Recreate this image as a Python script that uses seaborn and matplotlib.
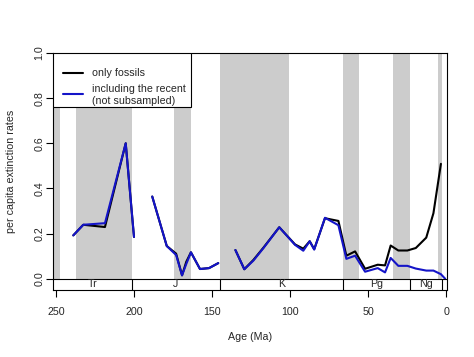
import numpy as np
import pandas as pd
import matplotlib
matplotlib.use("Agg")
import matplotlib.pyplot as plt
from matplotlib.patches import Rectangle
import seaborn as sns

# geological periods (Ma) for the strip along the bottom
period_names = ["Tr", "J", "K", "Pg", "Ng", ""]
period_start = [251.9, 201.3, 145.0, 66.0, 23.03, 2.58]
period_end = [201.3, 145.0, 66.0, 23.03, 2.58, 0.0]

# alternating epochs shaded grey
gray_start = [251.9, 237.0, 174.1, 145.0, 66.0, 33.9, 5.333]
gray_end = [247.2, 201.3, 163.5, 100.5, 56.0, 23.03, 2.58]

# rates per time bin, three separate runs of bins
ages_tr = [238.9, 232.5, 218.6, 205.3, 200.0]
fossil_tr = [0.192, 0.239, 0.229, 0.600, 0.185]
recent_tr = [0.192, 0.239, 0.246, 0.600, 0.185]

ages_j = [188.3, 179.0, 173.0, 169.2, 166.5, 163.5, 157.7, 151.9, 146.0]
fossil_j = [0.364, 0.145, 0.111, 0.015, 0.075, 0.117, 0.043, 0.047, 0.069]
recent_j = [0.364, 0.145, 0.105, 0.015, 0.065, 0.117, 0.043, 0.047, 0.069]

ages_k = [135.0, 129.3, 123.5, 117.0, 106.9, 96.8, 91.5, 87.4, 84.5, 77.6, 69.0,
          63.9, 58.3, 51.9, 43.8, 39.1, 35.5, 30.6, 24.8, 19.4, 12.7, 8.1, 3.3, 0.6]
fossil_k = [0.127, 0.042, 0.083, 0.138, 0.228, 0.152, 0.133, 0.166, 0.131, 0.268, 0.256,
            0.102, 0.121, 0.044, 0.062, 0.059, 0.147, 0.125, 0.125, 0.136, 0.182, 0.290, 0.509, np.nan]
recent_k = [0.127, 0.042, 0.080, 0.136, 0.228, 0.150, 0.124, 0.166, 0.129, 0.270, 0.237,
            0.088, 0.102, 0.031, 0.047, 0.028, 0.092, 0.057, 0.057, 0.045, 0.036, 0.036, 0.020, 0.0]

legend_labels = ["only fossils", "including the recent\n(not subsampled)"]


def make_df(ages_list, rates_list):
    rows = []
    for seg, (ages, rates) in enumerate(zip(ages_list, rates_list)):
        for a, r in zip(ages, rates):
            rows.append({"age": a, "rate": r, "segment": seg})
    return pd.DataFrame(rows).dropna()


df_fossil = make_df([ages_tr, ages_j, ages_k], [fossil_tr, fossil_j, fossil_k])
df_recent = make_df([ages_tr, ages_j, ages_k], [recent_tr, recent_j, recent_k])

sns.set_style("ticks")
plt.rcParams["font.family"] = ["Liberation Sans", "DejaVu Sans"]
fs = 7.7
blue = "#1414c8"

fig = plt.figure(figsize=(4.74, 3.57), dpi=100)
ax = fig.add_axes([53 / 474, (357 - 290) / 357, (447 - 53) / 474, (290 - 53) / 357])

ymin = -0.05
for s, e in zip(gray_start, gray_end):
    ax.fill_between([s, e], 0, 1, color="#cccccc", lw=0, zorder=0)

sns.lineplot(data=df_fossil, x="age", y="rate", units="segment", estimator=None, sort=False,
             color="black", lw=1.5, ax=ax, legend=False, zorder=3)
sns.lineplot(data=df_recent, x="age", y="rate", units="segment", estimator=None, sort=False,
             color=blue, lw=1.5, ax=ax, legend=False, zorder=4)

# period strip
ax.axhline(0, color="black", lw=0.8, zorder=5)
ax.vlines(period_start[1:], ymin, 0, color="black", lw=0.8, zorder=5)
for name, s, e in zip(period_names, period_start, period_end):
    ax.text((s + e) / 2, ymin / 2, name, ha="center", va="center", fontsize=fs, zorder=6)

ax.set_xlim(251.9, -0.6)
ax.set_ylim(ymin, 1.0)
ax.set_xticks([250, 200, 150, 100, 50, 0])
ax.set_xticklabels(["250", "200", "150", "100", "50", "0"])
ax.set_yticks([0, 0.2, 0.4, 0.6, 0.8, 1.0])
ax.set_yticklabels(["0.0", "0.2", "0.4", "0.6", "0.8", "1.0"], rotation=90, va="center")
ax.tick_params(direction="out", length=5, width=0.8, color="black", labelsize=fs)
ax.tick_params(axis="x", pad=7)
ax.tick_params(axis="y", pad=1)
for sp in ax.spines.values():
    sp.set_visible(True)
    sp.set_linewidth(0.8)
    sp.set_color("black")

ax.set_xlabel("Age (Ma)", fontsize=fs)
ax.set_ylabel("per capita extinction rates", fontsize=fs)
ax.xaxis.set_label_coords(0.5, (290 - 337) / 237)
ax.xaxis.label.set_va("center")
ax.yaxis.set_label_coords((11 - 53) / 394, 0.5)
ax.yaxis.label.set_va("center")


# legend box drawn R-style in axes coordinates (pixel positions of the frame)
def axx(px):
    return (px - 53) / 394


def axy(py):
    return (290 - py) / 237


ax.add_patch(Rectangle((axx(53), axy(107)), axx(191) - axx(53), axy(53) - axy(107),
                       transform=ax.transAxes, facecolor="white", edgecolor="black",
                       lw=0.8, zorder=10))
ax.plot([axx(63), axx(83)], [axy(73), axy(73)], color="black", lw=1.5,
        transform=ax.transAxes, zorder=11)
ax.plot([axx(63), axx(83)], [axy(94), axy(94)], color=blue, lw=1.5,
        transform=ax.transAxes, zorder=11)
ax.text(axx(92), axy(73), legend_labels[0], transform=ax.transAxes, fontsize=fs,
        ha="left", va="center", zorder=11)
ax.text(axx(92), axy(95), legend_labels[1], transform=ax.transAxes, fontsize=fs,
        ha="left", va="center", linespacing=1.35, zorder=11)

fig.savefig("out.png", dpi=100)
